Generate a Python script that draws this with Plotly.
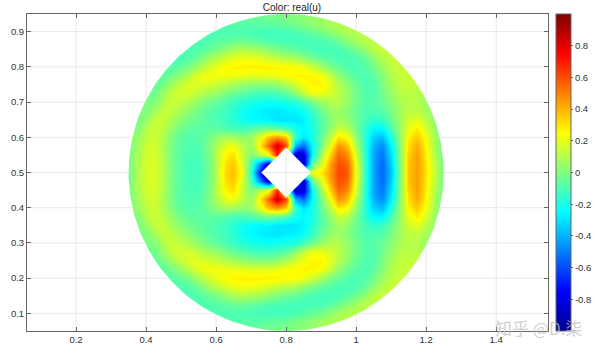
import numpy as np
import plotly.graph_objects as go

# Field values: upper half of the disk (y = 0.50 .. 0.95); the field mirrors about y = 0.5
x_grid = [0.35, 0.375, 0.40, 0.425, 0.45, 0.475, 0.50, 0.525, 0.55, 0.575, 0.60, 0.625, 0.65, 0.675, 0.70, 0.725, 0.75, 0.775, 0.80,
          0.825, 0.85, 0.875, 0.90, 0.925, 0.95, 0.975, 1.00, 1.025, 1.05, 1.075, 1.10, 1.125, 1.15, 1.175, 1.20, 1.225, 1.25]
y_upper = [0.50, 0.525, 0.55, 0.575, 0.60, 0.625, 0.65, 0.675, 0.70, 0.725, 0.75, 0.775, 0.80, 0.825, 0.85, 0.875, 0.90, 0.925, 0.95]
rows_upper = [
 [-.03,.09,.17,.18,.10,-.02,-.09,-.12,-.11,-.05,.11,.32,.38,.22,-.15,-.75,-.95,-.9,0,0,.1,.2,.30,.45,.62,.58,.22,-.16,-.42,-.55,-.35,0,.36,.44,.3,.13,-.04],
 [-.02,.09,.17,.18,.10,-.02,-.09,-.12,-.11,-.05,.10,.30,.36,.18,-.12,-.5,-.85,-.6,-.1,-.3,-.9,-.05,.17,.43,.60,.55,.20,-.16,-.42,-.55,-.33,.02,.36,.44,.29,.11,-.04],
 [-.01,.08,.16,.17,.09,-.02,-.09,-.11,-.10,-.04,.11,.27,.31,.14,.0,.1,.2,.7,0,-.9,-.85,-.25,.07,.34,.55,.48,.16,-.17,-.42,-.52,-.3,.02,.34,.44,.27,.09,-.04],
 [-.01,.06,.15,.16,.08,-.02,-.08,-.10,-.09,-.02,.09,.2,.23,.12,.05,.3,.55,.85,.6,-.4,-.55,-.25,-.02,.22,.47,.38,.09,-.18,-.4,-.48,-.26,.03,.31,.42,.25,.07,-.04],
 [0,.05,.13,.15,.09,-.01,-.07,-.09,-.08,-.04,.03,.08,.06,.03,.06,.2,.38,.45,.35,-.15,-.3,-.2,-.05,.11,.3,.24,.03,-.18,-.33,-.38,-.18,.05,.27,.35,.22,.06,-.04],
 [0,0,.1,.15,.12,.04,-.03,-.06,-.07,-.07,-.07,-.1,-.12,-.12,-.1,-.06,-.04,-.08,-.12,-.22,-.26,-.2,-.08,.03,.14,.1,-.03,-.16,-.25,-.25,-.1,.06,.2,.28,.16,.04,-.02],
 [-.02,-.02,.05,.14,.14,.07,.02,-.03,-.05,-.08,-.1,-.13,-.17,-.22,-.25,-.26,-.27,-.3,-.3,-.3,-.27,-.18,-.08,.01,.07,.04,-.04,-.12,-.16,-.14,-.04,.07,.16,.2,.11,.03,-.01],
 [0,0,0,.08,.14,.12,.07,.02,-.03,-.07,-.1,-.13,-.17,-.22,-.26,-.28,-.29,-.3,-.28,-.27,-.23,-.14,-.04,.04,.06,.01,-.05,-.1,-.1,-.08,-.01,.07,.12,.13,.07,.03,.0],
 [0,0,0,0,.1,.15,.12,.08,.03,-.02,-.06,-.1,-.14,-.18,-.2,-.22,-.23,-.22,-.2,-.18,-.12,-.03,.05,.1,.1,.05,-.03,-.08,-.08,-.04,.02,.08,.11,.1,.05,.03,.03],
 [-.03,-.03,-.03,-.03,.06,.14,.17,.16,.12,.08,.05,.0,-.04,-.07,-.1,-.12,-.12,-.1,-.06,.03,.14,.22,.22,.17,.12,.05,-.03,-.09,-.09,-.03,.05,.11,.12,.11,.08,.08,.08],
 [-.05,-.05,-.05,-.05,-.02,.07,.14,.19,.19,.17,.14,.11,.08,.05,.03,.02,.02,.05,.1,.17,.23,.27,.27,.2,.1,.03,-.05,-.1,-.09,-.01,.08,.13,.14,.13,.12,.12,.12],
 [-.06,-.06,-.06,-.06,-.06,-.02,.05,.13,.2,.23,.23,.22,.21,.2,.19,.19,.2,.21,.24,.26,.27,.27,.24,.14,.04,-.03,-.08,-.1,-.07,.01,.1,.14,.14,.14,.14,.14,.14],
 [-.08,-.08,-.08,-.08,-.08,-.08,-.05,.0,.08,.15,.21,.25,.27,.28,.28,.28,.28,.27,.26,.25,.22,.16,.08,0,-.05,-.09,-.11,-.08,-.03,.06,.12,.14,.14,.14,.14,.14,.14],
 [-.1,-.1,-.1,-.1,-.1,-.1,-.1,-.08,-.03,.05,.11,.16,.2,.22,.21,.19,.16,.13,.1,.08,.03,-.02,-.06,-.09,-.11,-.11,-.09,-.05,.03,.1,.14,.14,.14,.14,.14,.14,.14],
 [-.1,-.1,-.1,-.1,-.1,-.1,-.1,-.1,-.09,-.06,-.02,.03,.07,.09,.08,.06,.02,-.01,-.04,-.06,-.09,-.11,-.12,-.12,-.11,-.07,-.02,.05,.12,.14,.14,.14,.14,.14,.14,.14,.14],
 [-.1,-.1,-.1,-.1,-.1,-.1,-.1,-.1,-.1,-.1,-.08,-.07,-.05,-.05,-.06,-.08,-.1,-.11,-.12,-.12,-.12,-.11,-.1,-.07,-.03,.03,.08,.12,.12,.12,.12,.12,.12,.12,.12,.12,.12],
 [-.1,-.1,-.1,-.1,-.1,-.1,-.1,-.1,-.1,-.1,-.1,-.1,-.1,-.1,-.11,-.12,-.12,-.12,-.12,-.1,-.08,-.05,-.02,.03,.07,.1,.1,.1,.1,.1,.1,.1,.1,.1,.1,.1,.1],
 [-.08,-.08,-.08,-.08,-.08,-.08,-.08,-.08,-.08,-.08,-.08,-.08,-.08,-.08,-.08,-.07,-.06,-.05,-.03,-.01,.02,.04,.07,.09,.1,.1,.1,.1,.1,.1,.1,.1,.1,.1,.1,.1,.1],
 [-.02,-.02,-.02,-.02,-.02,-.02,-.02,-.02,-.02,-.02,-.02,-.02,-.02,-.02,-.02,-.02,-.02,-.01,0,.01,.02,.03,.04,.05,.05,.05,.05,.05,.05,.05,.05,.05,.05,.05,.05,.05,.05],
]

x_ticks = [0.2, 0.4, 0.6, 0.8, 1.0, 1.2, 1.4]
y_ticks = [0.1, 0.2, 0.3, 0.4, 0.5, 0.6, 0.7, 0.8, 0.9]
cbar_ticks = [-0.8, -0.6, -0.4, -0.2, 0, 0.2, 0.4, 0.6, 0.8]
title_text = "Color: real(u)"
watermark = "知乎 @D.柒"

cx, cy, radius, half_diag = 0.8, 0.5, 0.45, 0.0707
x_range = [0.06, 1.548]
y_range = [0.05, 0.95]

jet = [[0, "rgb(0,0,143)"], [0.125, "rgb(0,0,255)"], [0.375, "rgb(0,255,255)"],
       [0.625, "rgb(255,255,0)"], [0.875, "rgb(255,0,0)"], [1, "rgb(128,0,0)"]]

y_all = [2 * cy - v for v in reversed(y_upper[1:])] + y_upper
z_all = list(reversed(rows_upper[1:])) + rows_upper

fig = go.Figure()
fig.add_trace(go.Heatmap(x=x_grid, y=y_all, z=z_all, zmin=-1, zmax=1, zsmooth="best", colorscale=jet,
                         hoverinfo="skip",
                         colorbar=dict(thickness=15, thicknessmode="pixels", len=1, lenmode="fraction",
                                       x=(555.5 - 27) / 521, xanchor="left", y=0.5, yanchor="middle",
                                       xpad=0, ypad=0, outlinecolor="#666", outlinewidth=1,
                                       tickvals=cbar_ticks, ticktext=[f"{v:g}" for v in cbar_ticks],
                                       ticks="outside", ticklen=2, tickcolor="#666",
                                       tickfont=dict(family="Liberation Sans", size=9.5, color="#333"))))

# White mask round the disk (one path: rectangle, then the circle the other way round)
t = np.linspace(0, -2 * np.pi, 361)
mx = [3, 3, -1, -1, 3, 3] + list(cx + radius * np.cos(t)) + [3]
my = [cy, 3, 3, -1, -1, cy] + list(cy + radius * np.sin(t)) + [cy]
fig.add_trace(go.Scatter(x=mx, y=my, mode="lines", line=dict(width=0), fill="toself", fillcolor="white",
                         hoverinfo="skip", showlegend=False))
# White diamond hole
fig.add_trace(go.Scatter(x=[cx - half_diag, cx, cx + half_diag, cx, cx - half_diag],
                         y=[cy, cy + half_diag, cy, cy - half_diag, cy],
                         mode="lines", line=dict(width=0), fill="toself", fillcolor="white",
                         hoverinfo="skip", showlegend=False))

# Grid lines show only where the field is absent
gx, gy = [], []
for c in x_ticks:
    d = abs(c - cx)
    h = np.sqrt(max(radius ** 2 - d ** 2, 0))
    gx += [c, c, None, c, c, None]
    gy += [y_range[0], cy - h, None, cy + h, y_range[1], None]
    if d < half_diag:
        w = half_diag - d
        gx += [c, c, None]
        gy += [cy - w, cy + w, None]
for c in y_ticks:
    d = abs(c - cy)
    h = np.sqrt(max(radius ** 2 - d ** 2, 0))
    gy += [c, c, None, c, c, None]
    gx += [x_range[0], cx - h, None, cx + h, x_range[1], None]
    if d < half_diag:
        w = half_diag - d
        gy += [c, c, None]
        gx += [cx - w, cx + w, None]
fig.add_trace(go.Scatter(x=gx, y=gy, mode="lines", line=dict(color="#e8e8e8", width=1),
                         hoverinfo="skip", showlegend=False))

axis_style = dict(showgrid=False, zeroline=False, showline=True, linecolor="#666", linewidth=1, mirror="ticks",
                  ticks="inside", ticklen=4, tickcolor="#666",
                  tickfont=dict(family="Liberation Sans", size=9.5, color="#333"))
fig.update_layout(
    width=600, height=354, autosize=False, plot_bgcolor="white", paper_bgcolor="white", showlegend=False,
    margin=dict(l=27, r=52, t=14, b=23, autoexpand=False),
    title=dict(text=title_text, font=dict(family="Liberation Sans", size=10, color="#222"),
               x=292 / 600, xanchor="center", xref="container", y=1 - 7 / 354, yanchor="middle", yref="container"),
    xaxis=dict(range=x_range, tickvals=x_ticks, ticktext=[f"{v:g}" for v in x_ticks], **axis_style),
    yaxis=dict(range=y_range, tickvals=y_ticks, ticktext=[f"{v:g}" for v in y_ticks], **axis_style),
    annotations=[dict(text=watermark, xref="paper", yref="paper", x=(538 - 27) / 521, y=(354 - 23 - 327.5) / 317,
                      xanchor="center", yanchor="middle", showarrow=False,
                      font=dict(family="Noto Sans CJK SC", size=17, color="rgba(190,190,190,0.75)"))],
)
fig.write_html("out.html", post_script="document.body.style.margin='0';", config=dict(displayModeBar=False))
